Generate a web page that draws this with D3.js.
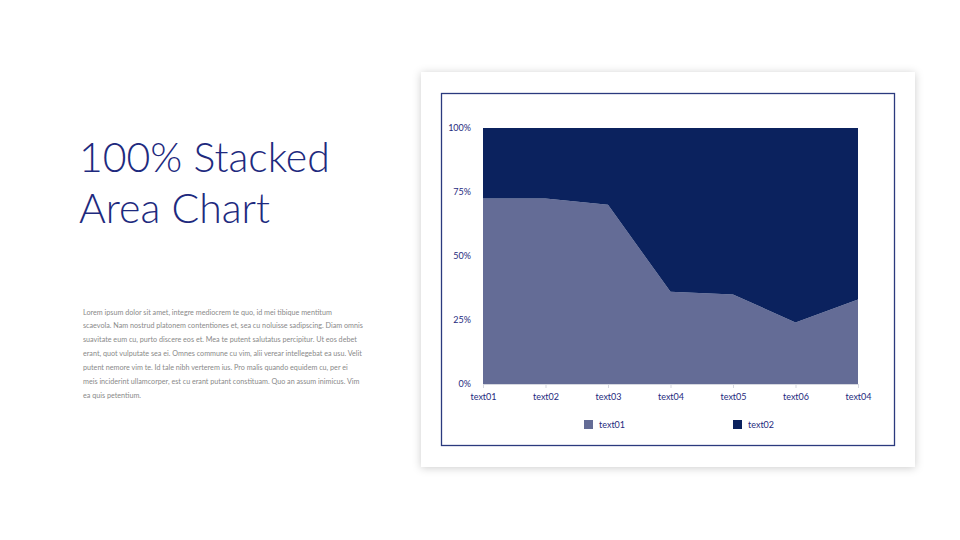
<!DOCTYPE html>
<html>
<head>
<meta charset="utf-8">
<script src="https://cdn.jsdelivr.net/npm/d3@7"></script>
<style>
  body { margin: 0; background: #fff; }
  svg { display: block; }
</style>
</head>
<body>
<svg id="chart" width="960" height="540"></svg>
<script>
// chart data
const categories = ["text01", "text02", "text03", "text04", "text05", "text06", "text04"];
const seriesNames = ["text01", "text02"];
const series1 = [72.5, 72.5, 70, 36, 35, 24, 33];
const series2 = [27.5, 27.5, 30, 64, 65, 76, 67];
const yTicks = [0, 0.25, 0.5, 0.75, 1];

const colors = ["#646c96", "#0b225e"];
const navy = "#1e2a7e";

const bodyLines = [
  "Lorem ipsum dolor sit amet, integre mediocrem te quo, id mei tibique mentitum",
  "scaevola. Nam nostrud platonem contentiones et, sea cu noluisse sadipscing. Diam omnis",
  "suavitate eum cu, purto discere eos et. Mea te putent salutatus percipitur. Ut eos debet",
  "erant, quot vulputate sea ei. Omnes commune cu vim, alii verear intellegebat ea usu. Velit",
  "putent nemore vim te. Id tale nibh verterem ius. Pro malis quando equidem cu, per ei",
  "meis inciderint ullamcorper, est cu erant putant constituam. Quo an assum inimicus. Vim",
  "ea quis petentium."
];

const svg = d3.select("#chart");

// title
const title = svg.append("text")
  .attr("font-family", "Lato, 'Noto Sans', sans-serif")
  .attr("font-weight", 300)
  .attr("font-size", 41)
  .attr("fill", navy);
title.append("tspan").attr("x", 79).attr("y", 172).text("100% Stacked");
title.append("tspan").attr("x", 79).attr("y", 223).text("Area Chart");

// body text
svg.append("g")
  .selectAll("text")
  .data(bodyLines)
  .join("text")
  .attr("x", 83)
  .attr("y", (d, i) => 314.5 + i * 13.9)
  .attr("font-family", "Lato, 'Noto Sans', sans-serif")
  .attr("font-size", 7.2)
  .attr("fill", "#8a8a8a")
  .text(d => d);

// card with shadow
const defs = svg.append("defs");
const filter = defs.append("filter").attr("id", "shadow")
  .attr("x", "-10%").attr("y", "-10%").attr("width", "120%").attr("height", "120%");
filter.append("feDropShadow")
  .attr("dx", 0).attr("dy", 1).attr("stdDeviation", 4)
  .attr("flood-color", "#000").attr("flood-opacity", 0.2);

svg.append("rect")
  .attr("x", 421).attr("y", 72).attr("width", 494).attr("height", 395)
  .attr("fill", "#fff")
  .attr("filter", "url(#shadow)");

svg.append("rect")
  .attr("x", 441.5).attr("y", 93.5).attr("width", 453).attr("height", 352)
  .attr("fill", "none")
  .attr("stroke", "#2b3a7e")
  .attr("stroke-width", 1.3);

// plot
const plot = { left: 483, right: 858, top: 128, bottom: 384 };

const x = d3.scalePoint()
  .domain(d3.range(categories.length))
  .range([plot.left, plot.right]);

const y = d3.scaleLinear()
  .domain([0, 1])
  .range([plot.bottom, plot.top]);

const rows = categories.map((c, i) => ({ i: i, s0: series1[i], s1: series2[i] }));

const stacked = d3.stack()
  .keys(["s0", "s1"])
  .offset(d3.stackOffsetExpand)(rows);

const area = d3.area()
  .x(d => x(d.data.i))
  .y0(d => y(d[0]))
  .y1(d => y(d[1]));

svg.append("g")
  .selectAll("path")
  .data(stacked)
  .join("path")
  .attr("d", area)
  .attr("fill", (d, i) => colors[i]);

// x axis
const xAxis = svg.append("g")
  .attr("transform", `translate(0,${plot.bottom})`)
  .call(d3.axisBottom(x).tickSize(4).tickFormat(i => categories[i]));
xAxis.select(".domain").attr("stroke", "#d5d7df");
xAxis.selectAll(".tick line").attr("stroke", "#d5d7df");
xAxis.selectAll("text")
  .attr("fill", navy)
  .attr("font-family", "Lato, 'Noto Sans', sans-serif")
  .attr("font-size", 9)
  .attr("dy", "0.95em");

// y axis labels
const yAxis = svg.append("g")
  .attr("transform", `translate(${plot.left},0)`)
  .call(d3.axisLeft(y).tickValues(yTicks).tickSize(0).tickPadding(12).tickFormat(d3.format(".0%")));
yAxis.select(".domain").remove();
yAxis.selectAll("text")
  .attr("fill", navy)
  .attr("font-family", "Lato, 'Noto Sans', sans-serif")
  .attr("font-size", 9);

// legend
const legend = svg.append("g")
  .selectAll("g")
  .data(seriesNames)
  .join("g")
  .attr("transform", (d, i) => `translate(${584 + i * 149},420)`);
legend.append("rect")
  .attr("width", 9).attr("height", 9)
  .attr("fill", (d, i) => colors[i]);
legend.append("text")
  .attr("x", 15).attr("y", 8)
  .attr("fill", navy)
  .attr("font-family", "Lato, 'Noto Sans', sans-serif")
  .attr("font-size", 9)
  .text(d => d);
</script>
</body>
</html>
